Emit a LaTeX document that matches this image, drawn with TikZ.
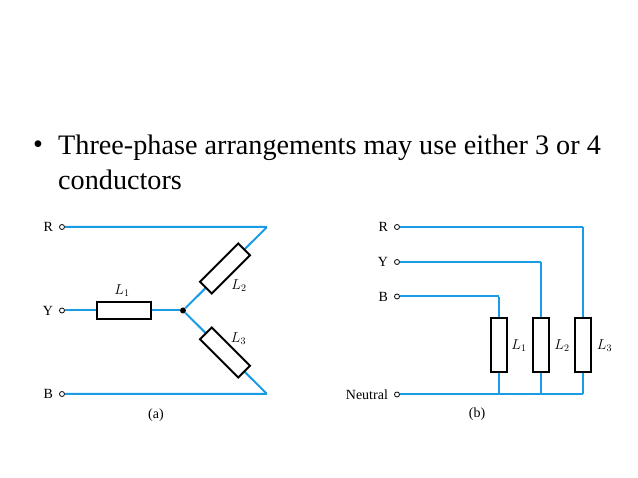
\documentclass[tikz,border=0pt]{standalone}
\usepackage{fontspec}
\setmainfont{Liberation Serif}
\usepackage{tikz}
\usetikzlibrary{positioning}
\definecolor{wireblue}{RGB}{25,155,230}
\tikzset{
  wire/.style={color=wireblue,line width=2pt},
  terminal/.style={circle,draw=black,fill=white,line width=.8pt,inner sep=0pt,minimum size=5pt},
  load/.style={rectangle,draw=black,fill=white,line width=2pt,inner sep=0pt,minimum width=54pt,minimum height=16.5pt},
  dot/.style={circle,fill=black,inner sep=0pt,minimum size=6pt},
  lab/.style={font=\fontsize{14}{15}\selectfont,inner sep=0pt},
  loadlab/.style={font=\fontsize{14.5}{15}\selectfont,inner sep=0pt},
  corner/.style={inner sep=0pt,minimum size=0pt}
}
\begin{document}
\begin{tikzpicture}[x=1pt,y=-1pt]
\useasboundingbox (0,0) rectangle (638,478);
%\draw[step=50pt,color=gray] (0,0) grid (638,478);
% bullet
\node[anchor=center,inner sep=0pt,font=\fontsize{28.2}{35}\selectfont] (bul) at (38,147) {\textbullet};
\node[anchor=north west,align=left,inner sep=0pt,font=\fontsize{28.2}{35}\selectfont] (txt) at (58,134.5) {Three-phase arrangements may use either 3 or 4\\conductors};
% (a)
\node[terminal] (Ra) at (62,227) {};
\node[terminal] (Ya) at (62,310.5) {};
\node[terminal] (Ba) at (62,394) {};
\node[corner] (ca) at (267,227) {};
\node[corner] (da) at (267,394) {};
\node[dot] (J) at (183,310.5) {};
\draw[wire] (Ra) -- (ca) -- (J) -- (da) -- (Ba);
\draw[wire] (Ya) -- (J);
\node[load] (La1) at (123.5,310.5) {};
\node[load,rotate=45] (La2) at (225,268.5) {};
\node[load,rotate=-45] (La3) at (225,352.5) {};
\node[lab,left=6pt of Ra] {R};
\node[lab,left=6pt of Ya] {Y};
\node[lab,left=6pt of Ba] {B};
\node[loadlab] at (122,291) {$L_1$};
\node[loadlab] at (239,286) {$L_2$};
\node[loadlab] at (238.5,339) {$L_3$};
\node[lab] at (156,415) {(a)};
% (b)
\node[terminal] (Rb) at (397,227) {};
\node[terminal] (Yb) at (397,262) {};
\node[terminal] (Bb) at (397,296.5) {};
\node[terminal] (Nb) at (397,394.5) {};
\node[corner] (c1) at (499,296.5) {};
\node[corner] (c2) at (541,262) {};
\node[corner] (c3) at (583,227) {};
\node[corner] (n1) at (499,394.5) {};
\node[corner] (n2) at (541,394.5) {};
\node[corner] (n3) at (583,394.5) {};
\draw[wire] (Bb) -- (c1) -- (n1);
\draw[wire] (Yb) -- (c2) -- (n2);
\draw[wire] (Rb) -- (c3) -- (n3) -- (Nb);
\node[load,rotate=90] (Lb1) at (499,345.5) {};
\node[load,rotate=90] (Lb2) at (541,345.5) {};
\node[load,rotate=90] (Lb3) at (583,345.5) {};
\node[lab,left=6pt of Rb] {R};
\node[lab,left=6pt of Yb] {Y};
\node[lab,left=6pt of Bb] {B};
\node[lab,left=6pt of Nb] {Neutral};
\node[loadlab] at (519,346) {$L_1$};
\node[loadlab] at (562,346) {$L_2$};
\node[loadlab] at (604.5,346) {$L_3$};
\node[lab] at (477,414.5) {(b)};
\end{tikzpicture}
\end{document}
